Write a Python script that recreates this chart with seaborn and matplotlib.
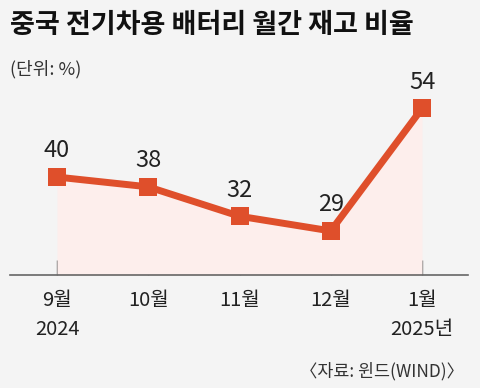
import matplotlib
matplotlib.use("Agg")
import matplotlib.pyplot as plt
import seaborn as sns
import pandas as pd

# 데이터
months = ["9월\n2024", "10월", "11월", "12월", "1월\n2025년"]
ratio = [40, 38, 32, 29, 54]

df = pd.DataFrame({"x": range(len(months)), "ratio": ratio})

sns.set_theme(style="white")
plt.rcParams["font.family"] = ["Noto Sans CJK KR", "DejaVu Sans"]

bg = "#f4f4f4"
red = "#df4f2b"

fig = plt.figure(figsize=(4.8, 3.88), dpi=100, facecolor=bg)
ax = fig.add_axes([10 / 480, 113 / 388, 458 / 480, 215 / 388])
ax.set_facecolor(bg)

# 선 아래 채우기
ax.fill_between(df["x"], df["ratio"], 20, color="#fdeeec", zorder=1, lw=0)

sns.lineplot(
    data=df, x="x", y="ratio", ax=ax, color=red, linewidth=5,
    marker="s", markersize=13.5, markeredgewidth=0, zorder=3,
)

# 값 라벨
for i, v in enumerate(ratio):
    ax.text(i, v + 3.0, str(v), ha="center", va="bottom", fontsize=17,
            color="#222222")

ax.set_xlim(-0.515, 4.504)
ax.set_ylim(20, 63.9)
ax.set_xticks(range(len(months)))
ax.set_xticklabels(months, fontsize=14.5, color="#222222", linespacing=1.5)
ax.set_yticks([])
ax.set_xlabel("")
ax.set_ylabel("")
ax.tick_params(axis="x", direction="in", length=11, width=1, color="#666666",
               pad=11, bottom=True)
for s in ["top", "right", "left"]:
    ax.spines[s].set_visible(False)
ax.spines["bottom"].set_color("#666666")
ax.spines["bottom"].set_linewidth(1.2)

fig.text(10 / 480, 1 - 25 / 388, "중국 전기차용 배터리 월간 재고 비율",
         fontsize=19.5, fontweight="bold", color="#111111", ha="left", va="center")
fig.text(10 / 480, 1 - 69 / 388, "(단위: %)", fontsize=13, color="#333333",
         ha="left", va="center")
fig.text(464 / 480, 1 - 371 / 388, "〈자료: 윈드(WIND)〉", fontsize=12.5,
         color="#333333", ha="right", va="center")

fig.savefig("out.png", dpi=100, facecolor=bg)
